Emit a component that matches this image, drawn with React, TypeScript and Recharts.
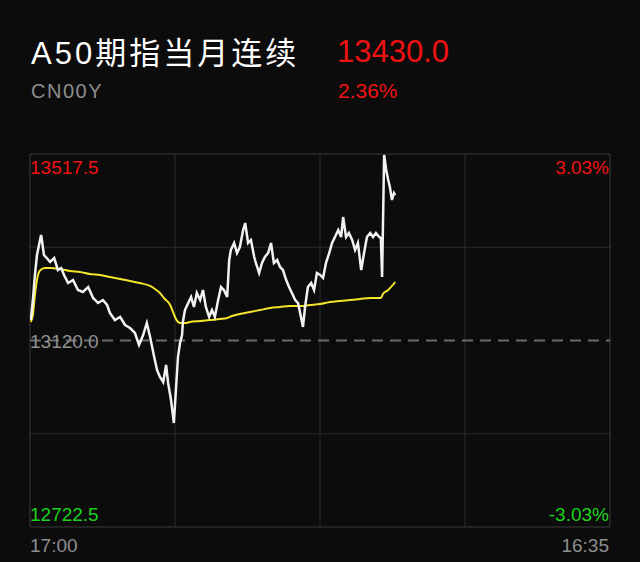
import React from 'react';
import { LineChart, Line, XAxis, YAxis, ReferenceLine } from 'recharts';

const title = 'A50期指当月连续';
const code = 'CN00Y';
const lastPrice = '13430.0';
const changePct = '2.36%';

const prevClose = 13120.0;
const priceMax = 13517.5;
const priceMin = 12722.5;
const priceLabels = ['13517.5', '13120.0', '12722.5'];
const pctLabels = ['3.03%', '-3.03%'];
const timeLabels = ['17:00', '16:35'];
const sessionMinutes = 1415; // 17:00 -> 16:35

// minutes since 17:00
const priceTimes = [
  2, 7, 12, 17, 22, 27, 29, 34, 41, 49,
  59, 68, 76, 83, 93, 105, 117, 129, 142, 154,
  166, 178, 188, 195, 207, 220, 232, 244, 256, 266,
  276, 285, 293, 303, 310, 317, 325, 332, 337, 344,
  351, 356, 361, 366, 371, 373, 378, 386, 393, 400,
  407, 415, 422, 429, 437, 444, 451, 459, 466, 473,
  481, 486, 490, 498, 505, 512, 520, 525, 532, 539,
  547, 551, 559, 566, 573, 581, 588, 595, 603, 610,
  617, 625, 632, 639, 647, 654, 661, 666, 671, 678,
  686, 693, 700, 708, 715, 722, 730, 737, 744, 752,
  759, 764, 771, 778, 786, 793, 800, 808, 815, 822,
  830, 837, 844, 852, 856, 859, 864, 869, 874, 878,
  883, 888, 891,
];
const prices = [
  13163.7, 13206.3, 13259.6, 13302.2, 13323.5, 13344.9, 13334.2, 13302.2, 13295.8, 13287.3,
  13295.8, 13270.3, 13274.5, 13259.6, 13242.5, 13248.9, 13227.6, 13223.4, 13234.0, 13210.6,
  13199.9, 13206.3, 13195.7, 13178.6, 13163.7, 13170.1, 13153.0, 13146.6, 13136.0, 13110.4,
  13131.7, 13157.3, 13127.5, 13084.8, 13057.1, 13042.2, 13031.5, 13067.8, 13029.4, 12993.2,
  12944.2, 13014.5, 13084.8, 13114.7, 13131.7, 13159.4, 13185.0, 13199.9, 13212.7, 13191.4,
  13221.2, 13206.3, 13227.6, 13191.4, 13170.1, 13185.0, 13170.1, 13206.3, 13234.0, 13227.6,
  13212.7, 13291.6, 13312.9, 13327.8, 13306.5, 13319.3, 13355.5, 13370.4, 13327.8, 13334.2,
  13298.0, 13285.2, 13263.9, 13285.2, 13298.0, 13306.5, 13327.8, 13285.2, 13291.6, 13276.7,
  13270.3, 13248.9, 13234.0, 13221.2, 13206.3, 13199.9, 13170.1, 13148.8, 13191.4, 13234.0,
  13242.5, 13227.6, 13263.9, 13259.6, 13253.2, 13285.2, 13306.5, 13327.8, 13340.6, 13355.5,
  13340.6, 13383.2, 13340.6, 13349.1, 13334.2, 13312.9, 13327.8, 13270.3, 13306.5, 13340.6,
  13349.1, 13340.6, 13349.1, 13340.6, 13338.5, 13255.3, 13515.4, 13483.4, 13462.1, 13447.2,
  13419.5, 13434.4, 13430.0,
];

const avgTimes = [
  2, 7, 12, 17, 22, 29, 37, 49, 73, 98,
  122, 146, 171, 195, 220, 244, 268, 293, 305, 317,
  329, 342, 349, 356, 366, 378, 390, 415, 439, 464,
  481, 493, 512, 537, 561, 586, 610, 634, 659, 683,
  708, 732, 756, 781, 805, 830, 856, 861, 874, 891,
];
const avgPrices = [
  13159.4, 13174.3, 13216.9, 13248.9, 13266.0, 13272.4, 13274.5, 13274.5, 13272.4, 13268.1,
  13266.0, 13261.7, 13259.6, 13255.3, 13251.1, 13246.8, 13242.5, 13236.2, 13229.8, 13221.2,
  13208.4, 13195.7, 13180.7, 13165.8, 13157.3, 13157.3, 13159.4, 13161.6, 13163.7, 13165.8,
  13167.9, 13172.2, 13176.5, 13180.7, 13185.0, 13189.3, 13191.4, 13193.5, 13193.5, 13195.7,
  13197.8, 13202.0, 13204.2, 13206.3, 13208.4, 13210.6, 13210.6, 13219.1, 13227.6, 13244.7,
];

const RED = '#f01212';
const GREEN = '#1ed21e';
const GRAY = '#8e8e8e';
const BG = '#0c0c0c';
const FONT = '"Liberation Sans", "Noto Sans CJK SC", sans-serif';

const priceData = priceTimes.map((t, i) => ({ t, price: prices[i] }));
const avgData = avgTimes.map((t, i) => ({ t, avg: avgPrices[i] }));

const span = priceMax - priceMin;

export default function App() {
  return (
    <div style={{ position: 'relative', width: 640, height: 562, background: BG, fontFamily: FONT }}>
      <style>{`body{margin:0;background:${BG}}`}</style>
      <LineChart
        width={640}
        height={562}
        margin={{ top: 154, right: 30, bottom: 35, left: 30 }}
        style={{ position: 'absolute', left: 0, top: 0 }}
      >
        <XAxis type="number" dataKey="t" domain={[0, sessionMinutes]} hide allowDataOverflow />
        <YAxis type="number" domain={[priceMin, priceMax]} hide allowDataOverflow />
        {[0.25, 0.5, 0.75].map((f) => (
          <ReferenceLine key={`v${f}`} x={sessionMinutes * f} stroke="#2a2a2a" strokeWidth={1} />
        ))}
        {[0.25, 0.75].map((f) => (
          <ReferenceLine key={`h${f}`} y={priceMin + span * f} stroke="#2a2a2a" strokeWidth={1} />
        ))}
        <ReferenceLine y={priceMax} stroke="#3a3a3a" />
        <ReferenceLine y={priceMin} stroke="#3a3a3a" />
        <ReferenceLine x={0} stroke="#3a3a3a" />
        <ReferenceLine x={sessionMinutes} stroke="#3a3a3a" />
        <ReferenceLine y={prevClose} stroke="#6a6a6a" strokeWidth={2} strokeDasharray="11 7" />
        <Line
          data={avgData}
          dataKey="avg"
          type="monotone"
          stroke="#f4e42c"
          strokeWidth={2}
          dot={false}
          isAnimationActive={false}
        />
        <Line
          data={priceData}
          dataKey="price"
          type="linear"
          stroke="#f2f2f2"
          strokeWidth={2.5}
          strokeLinejoin="miter"
          dot={false}
          isAnimationActive={false}
        />
      </LineChart>
      <svg width={640} height={562} style={{ position: 'absolute', left: 0, top: 0, pointerEvents: 'none' }}>
        <text x={31} y={64} fontSize={31} fill="#ffffff" letterSpacing={3}>{title}</text>
        <text x={337} y={62} fontSize={31} fill={RED}>{lastPrice}</text>
        <text x={31} y={98} fontSize={20} fill={GRAY} letterSpacing={1.5}>{code}</text>
        <text x={338} y={98} fontSize={21} fill={RED}>{changePct}</text>

        <text x={30} y={174} fontSize={19} fill={RED}>{priceLabels[0]}</text>
        <text x={30} y={347.5} fontSize={19} fill="#909090">{priceLabels[1]}</text>
        <text x={30} y={521} fontSize={19} fill={GREEN}>{priceLabels[2]}</text>
        <text x={609} y={174} fontSize={19} fill={RED} textAnchor="end">{pctLabels[0]}</text>
        <text x={609} y={521} fontSize={19} fill={GREEN} textAnchor="end">{pctLabels[1]}</text>
        <text x={30} y={552} fontSize={19} fill={GRAY}>{timeLabels[0]}</text>
        <text x={609} y={552} fontSize={19} fill={GRAY} textAnchor="end">{timeLabels[1]}</text>
      </svg>
    </div>
  );
}
